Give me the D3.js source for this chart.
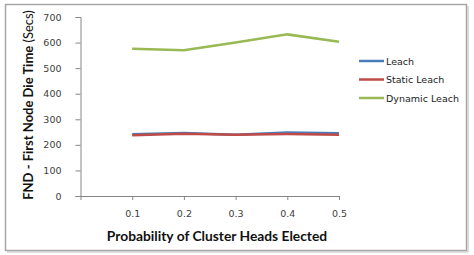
<!DOCTYPE html>
<html><head><meta charset="utf-8">
<script src="https://cdn.jsdelivr.net/npm/d3@7"></script>
<style>body{margin:0;background:#fff}svg{display:block}</style>
</head><body>
<script>
const xValues = [0.1, 0.2, 0.3, 0.4, 0.5];
const leach = [241, 246, 240, 248, 245];
const staticLeach = [238, 243, 240, 242, 240];
const dynamicLeach = [576, 570, 600, 632, 603];
const yTicks = [0, 100, 200, 300, 400, 500, 600, 700];
const seriesNames = ["Leach", "Static Leach", "Dynamic Leach"];
const seriesColors = ["#4a7ebb", "#be4b48", "#98b954"];

const W = 474, H = 255;
const svg = d3.select("body").append("svg").attr("width", W).attr("height", H);

// frame
svg.append("rect").attr("x", 5.5).attr("y", 4.5).attr("width", 461).attr("height", 246)
  .attr("fill", "none").attr("stroke", "#a6a6a6").attr("stroke-width", 1.5);
svg.append("line").attr("x1", 468).attr("x2", 468).attr("y1", 6).attr("y2", 252).attr("stroke", "#d0d0d0").attr("stroke-width", 1.5);
svg.append("line").attr("x1", 7).attr("x2", 468).attr("y1", 252).attr("y2", 252).attr("stroke", "#d0d0d0").attr("stroke-width", 1.5);

const x = d3.scaleLinear().domain([0, 0.5]).range([80.5, 339]);
const y = d3.scaleLinear().domain([0, 700]).range([196, 17]);

const yAxis = svg.append("g").attr("transform", "translate(80.5,0)")
  .call(d3.axisLeft(y).tickValues(yTicks).tickSize(5).tickPadding(14).tickFormat(d3.format("d")));
const xAxis = svg.append("g").attr("transform", "translate(0,196)")
  .call(d3.axisBottom(x).tickValues(xValues).tickSize(4).tickPadding(10).tickFormat(d3.format(".1f")));
[yAxis, xAxis].forEach(g => {
  g.selectAll("path,line").attr("stroke", "#868686");
  g.selectAll("text").attr("font-family", "DejaVu Sans").attr("font-size", 9.5).attr("fill", "#404040");
});

const series = [leach, staticLeach, dynamicLeach];
const line = d3.line().x((d, i) => x(xValues[i])).y(d => y(d));
series.forEach((s, k) => {
  svg.append("path").datum(s).attr("d", line).attr("fill", "none")
    .attr("stroke", seriesColors[k]).attr("stroke-width", 2.5);
});

// legend
const leg = svg.append("g");
seriesNames.forEach((n, k) => {
  const yy = 61 + k * 18.5;
  leg.append("line").attr("x1", 359).attr("x2", 384).attr("y1", yy).attr("y2", yy)
    .attr("stroke", seriesColors[k]).attr("stroke-width", 2.5);
  leg.append("text").attr("x", 386).attr("y", yy + 3.5).text(n)
    .attr("font-family", "DejaVu Sans").attr("font-size", 9.5).attr("fill", "#222");
});

// axis titles
svg.append("text").attr("x", 217).attr("y", 241).attr("text-anchor", "middle")
  .attr("font-family", "Lato").attr("font-weight", "bold").attr("font-size", 13.8).attr("fill", "#111")
  .text("Probability of Cluster Heads Elected");
const yt = svg.append("text").attr("transform", "translate(33,105) rotate(-90)").attr("text-anchor", "middle")
  .attr("font-family", "Lato").attr("font-size", 13).attr("fill", "#111");
yt.append("tspan").attr("font-weight", "bold").text("FND - First Node Die Time ");
yt.append("tspan").text("(Secs)");
</script>
</body></html>
